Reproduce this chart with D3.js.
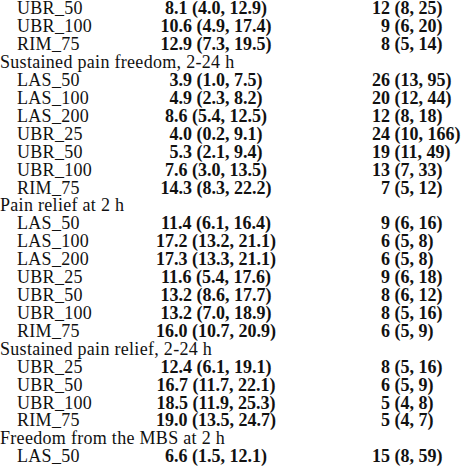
<!DOCTYPE html><html><head><meta charset="utf-8"><script src="https://cdn.jsdelivr.net/npm/d3@7"></script>
<style>body{margin:0;background:#fff}</style></head><body><svg id="c" width="474" height="474"></svg>
<script>
const headers=["Sustained pain freedom, 2-24 h","Pain relief at 2 h","Sustained pain relief, 2-24 h","Freedom from the MBS at 2 h"];
const labels=["UBR_50","UBR_100","RIM_75","#0","LAS_50","LAS_100","LAS_200","UBR_25","UBR_50","UBR_100","RIM_75","#1","LAS_50","LAS_100","LAS_200","UBR_25","UBR_50","UBR_100","RIM_75","#2","UBR_25","UBR_50","UBR_100","RIM_75","#3","LAS_50"];
const estimates=["8.1 (4.0, 12.9)","10.6 (4.9, 17.4)","12.9 (7.3, 19.5)","","3.9 (1.0, 7.5)","4.9 (2.3, 8.2)","8.6 (5.4, 12.5)","4.0 (0.2, 9.1)","5.3 (2.1, 9.4)","7.6 (3.0, 13.5)","14.3 (8.3, 22.2)","","11.4 (6.1, 16.4)","17.2 (13.2, 21.1)","17.3 (13.3, 21.1)","11.6 (5.4, 17.6)","13.2 (8.6, 17.7)","13.2 (7.0, 18.9)","16.0 (10.7, 20.9)","","12.4 (6.1, 19.1)","16.7 (11.7, 22.1)","18.5 (11.9, 25.3)","19.0 (13.5, 24.7)","","6.6 (1.5, 12.1)"];
const nnt=["12 (8, 25)","9 (6, 20)","8 (5, 14)","","26 (13, 95)","20 (12, 44)","12 (8, 18)","24 (10, 166)","19 (11, 49)","13 (7, 33)","7 (5, 12)","","9 (6, 16)","6 (5, 8)","6 (5, 8)","9 (6, 18)","8 (6, 12)","8 (5, 16)","6 (5, 9)","","8 (5, 16)","6 (5, 9)","5 (4, 8)","5 (4, 7)","","15 (8, 59)"];
const svg=d3.select("#c");
const y=d3.scaleLinear().domain([0,25]).range([8,456]);
const g=svg.selectAll("g").data(labels).join("g").attr("transform",(d,i)=>`translate(0,${y(i)})`)
 .style("font-family","'Liberation Serif','Times New Roman',serif").style("font-size","18px").attr("fill","#111");
g.append("text").attr("x",d=>d[0]==="#"?0:17).attr("dy","0.35em").style("letter-spacing","0.3px").text(d=>d[0]==="#"?headers[+d.slice(1)]:d);
g.append("text").attr("x",216).attr("text-anchor","middle").attr("dy","0.35em").attr("font-weight","bold").text((d,i)=>estimates[i]);
g.append("text").attr("x",(d,i)=>/^\d\s/.test(nnt[i])?381:372).attr("dy","0.35em").attr("font-weight","bold").text((d,i)=>nnt[i]);
</script></body></html>
